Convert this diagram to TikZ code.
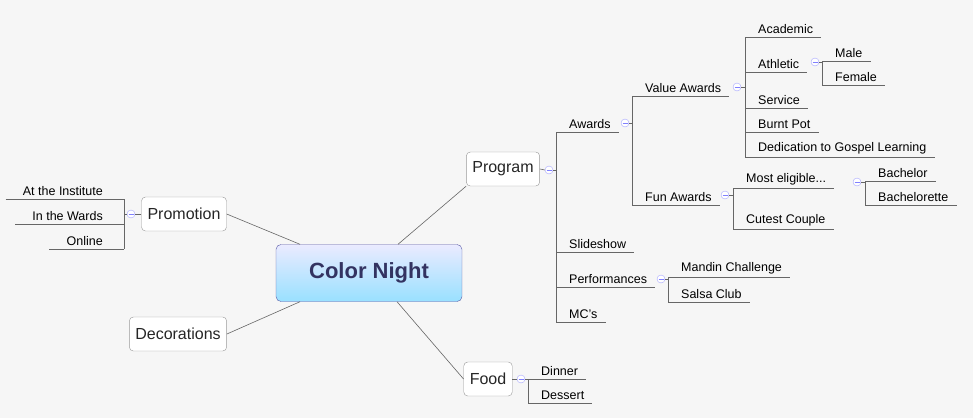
\documentclass[tikz,border=0pt]{standalone}
\usepackage{fontspec}
\setmainfont{Liberation Sans}
\begin{document}
\begin{tikzpicture}[x=1pt,y=-1pt]
 \tikzstyle{conn} = [draw=gray!80!black,line width=0.6pt]
 \tikzstyle{central} = [draw=gray!70!blue,rounded corners=5pt,top color=blue!8,bottom color=blue!30!cyan!40,
   minimum width=186pt,minimum height=57pt,font=\fontsize{22}{24}\selectfont\bfseries,text=black!70!blue!60!gray]
 \tikzstyle{topic} = [draw=gray!80,fill=white,rounded corners=4pt,minimum height=34pt,inner xsep=6pt,
   font=\fontsize{16}{18}\selectfont,text=black!85]
 \tikzstyle{sub} = [anchor=south west,inner xsep=0pt,inner ysep=3pt,font=\fontsize{12.5}{14}\selectfont,
   execute at begin node=\hspace{13pt},execute at end node=\hspace{8pt},
   append after command={(\tikzlastnode.south west) edge[conn] (\tikzlastnode.south east)}]
 \tikzstyle{subl} = [sub,anchor=south east,execute at begin node=\hspace{4pt},execute at end node=\hspace{13pt}]
 \tikzstyle{fold} = [circle,draw=blue!35,fill=white,minimum size=8pt,inner sep=0pt,
   path picture={\draw[blue!50] (-2.5pt,0) -- (2.5pt,0);}]

  \fill[gray!7] (0,0) rectangle (973,418);

  % Main topics
  \node[central] (cn) at (369,273) {Color Night};
  \node[topic] (prog) at (503,169) {Program};
  \node[topic] (promo) at (184,214) {Promotion};
  \node[topic] (deco) at (178,334) {Decorations};
  \node[topic] (food) at (488,379) {Food};

  \draw[conn] ([xshift=29pt]cn.north) -- (prog.south west);
  \draw[conn] ([xshift=-69pt]cn.north) -- (promo.east);
  \draw[conn] ([xshift=-69pt]cn.south) -- (deco.east);
  \draw[conn] ([xshift=28pt]cn.south) -- (food.west);

  % Program
  \node[fold] (prf) at (549,170) {};
  \node[sub] (awd) at (556,132) {Awards};
  \node[sub] (slide) at (556,252) {Slideshow};
  \node[sub] (perf) at (556,287) {Performances};
  \node[sub] (mcs) at (556,322) {MC's};
  \draw[conn] (prog.east) -- (prf.west);
  \foreach \n in {awd,slide,perf,mcs} \draw[conn] (prf.east) -| (\n.south west);

  \node[fold] (awf) at (625,123) {};
  \node[sub] (val) at (632,96) {Value Awards};
  \node[sub] (fun) at (632,205) {Fun Awards};
  \foreach \n in {val,fun} \draw[conn] (awf.east) -| (\n.south west);

  \node[fold] (valf) at (737,87) {};
  \node[sub] (acad) at (745,37) {Academic};
  \node[sub] (athl) at (745,72) {Athletic};
  \node[sub] (serv) at (745,108) {Service};
  \node[sub] (burnt) at (745,132) {Burnt Pot};
  \node[sub] (gosp) at (745,157) {Dedication to Gospel Learning};
  \foreach \n in {acad,athl,serv,burnt,gosp} \draw[conn] (valf.east) -| (\n.south west);

  \node[fold] (athf) at (815,62) {};
  \node[sub] (male) at (822,61) {Male};
  \node[sub] (fem) at (822,85) {Female};
  \foreach \n in {male,fem} \draw[conn] (athf.east) -| (\n.south west);

  \node[fold] (funf) at (725,195) {};
  \node[sub] (elig) at (733,188) {Most eligible...};
  \node[sub] (cute) at (733,229) {Cutest Couple};
  \foreach \n in {elig,cute} \draw[conn] (funf.east) -| (\n.south west);

  \node[fold] (eligf) at (857,182) {};
  \node[sub] (bach) at (865,181) {Bachelor};
  \node[sub] (bette) at (865,205) {Bachelorette};
  \foreach \n in {bach,bette} \draw[conn] (eligf.east) -| (\n.south west);

  \node[fold] (perff) at (661,279) {};
  \node[sub] (mand) at (668,277) {Mandin Challenge};
  \node[sub] (salsa) at (668,302) {Salsa Club};
  \foreach \n in {mand,salsa} \draw[conn] (perff.east) -| (\n.south west);

  % Promotion
  \node[fold] (prmf) at (131,214) {};
  \node[subl] (inst) at (124,199) {At the Institute};
  \node[subl] (wards) at (124,224) {In the Wards};
  \node[subl] (onl) at (124,249) {Online};
  \draw[conn] (promo.west) -- (prmf.east);
  \foreach \n in {inst,wards,onl} \draw[conn] (prmf.west) -| (\n.south east);

  % Food
  \node[fold] (fdf) at (521,379) {};
  \node[sub] (dinner) at (528,379) {Dinner};
  \node[sub] (dess) at (528,403) {Dessert};
  \draw[conn] (food.east) -- (fdf.west);
  \foreach \n in {dinner,dess} \draw[conn] (fdf.east) -| (\n.south west);
\end{tikzpicture}
\end{document}
